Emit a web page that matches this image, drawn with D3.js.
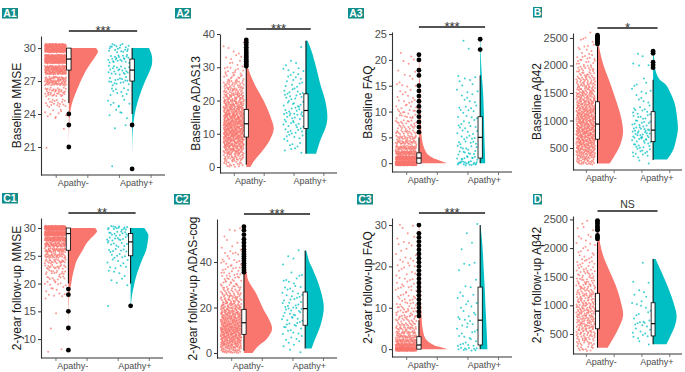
<!DOCTYPE html>
<html>
<head>
<meta charset="utf-8">
<script src="https://cdn.jsdelivr.net/npm/d3@7"></script>
<style>
  body { margin: 0; background: #fff; }
  svg { display: block; font-family: "Liberation Sans", Arial, sans-serif; }
</style>
</head>
<body>
<svg id="chart" width="685" height="372"></svg>
<script>
// Groups and colours
const groups = ["Apathy-", "Apathy+"];
const groupColors = ["#F8766D", "#00BFC4"];

// ---- A1 Baseline MMSE ----
const a1Ticks = [21, 24, 27, 30];
const a1NegPts = [[30, 210], [29, 210], [28, 140], [27, 80], [26, 40], [25, 20], [24, 10], [23, 1], [21, 1]];
const a1PosPts = [[30, 20], [29, 22], [28, 20], [27, 16], [26, 10], [25, 7], [24, 5], [23, 2], [19, 1]];
const a1NegBox = [25, 28, 29, 30, 30];
const a1PosBox = [24, 27, 28, 29, 30];
const a1NegOut = [24, 23, 21];
const a1PosOut = [23, 19];
const a1NegDens = [[21, 0], [22, 0.005], [23, 0.015], [24, 0.04], [25, 0.11], [26, 0.25], [27, 0.41], [28, 0.6], [28.5, 0.72], [29.2, 0.9], [29.7, 1], [30, 0.93]];
const a1PosDens = [[19, 0], [21, 0.005], [22, 0.015], [23, 0.04], [24, 0.09], [25, 0.18], [26, 0.3], [27, 0.45], [28, 0.62], [28.5, 0.68], [29, 0.69], [29.5, 0.66], [30, 0.58]];

// ---- A2 Baseline ADAS13 ----
const a2Ticks = [0, 10, 20, 30, 40];
const a2NegPts = [[1, 20], [3, 35], [5, 55], [7, 70], [9, 80], [11, 85], [13, 82], [15, 75], [17, 65], [19, 55], [21, 45], [23, 35], [25, 25], [27, 16], [29, 10], [31, 6], [33, 4], [35, 3], [37, 2]];
const a2PosPts = [[5, 4], [7, 5], [9, 6], [11, 9], [13, 9], [15, 10], [17, 10], [19, 9], [21, 8], [23, 7], [25, 6], [27, 6], [29, 5], [31, 3], [37, 1]];
const a2NegBox = [0.7, 9.0, 13.0, 17.3, 29.7];
const a2PosBox = [4.0, 11.6, 17.0, 22.0, 38.0];
const a2NegOut = [30.3, 30.8, 31.3, 31.8, 32.3, 32.9, 33.4, 34, 34.6, 35.3, 36, 36.8, 37.5, 38.2];
const a2PosOut = [];
const a2NegDens = [[0, 0.15], [2, 0.3], [5, 0.6], [8, 0.85], [11.5, 1], [15, 0.89], [20, 0.63], [25, 0.3], [30, 0.06], [34, 0.02], [38, 0.005]];
const a2PosDens = [[4, 0.37], [8, 0.52], [12, 0.72], [15, 0.78], [20, 0.7], [25, 0.52], [30, 0.37], [35, 0.2], [38, 0.06]];

// ---- A3 Baseline FAQ ----
const a3Ticks = [0, 5, 10, 15, 20, 25];
const a3NegPts = [[0, 380], [1, 120], [2, 70], [3, 45], [4, 32], [5, 24], [6, 18], [7, 13], [8, 12], [9, 9], [10, 9], [11, 6], [12, 5], [13, 4], [14, 3], [15, 4], [16, 2], [17, 2], [18, 2], [19, 1], [20, 2], [21, 2]];
const a3PosPts = [[0, 20], [1, 10], [2, 8], [3, 7], [4, 6], [5, 6], [6, 5], [7, 5], [8, 4], [9, 4], [10, 4], [11, 4], [12, 3], [13, 3], [14, 3], [15, 2], [16, 3], [17, 2], [22, 1], [24, 1]];
const a3NegBox = [0, 0, 1, 2, 5];
const a3PosBox = [0, 1, 5, 9, 17];
const a3NegOut = [6, 7, 8, 9, 10, 11, 12, 13, 14, 15, 17, 18, 20, 21];
const a3PosOut = [22, 24];
const a3NegDens = [[0, 1], [0.5, 0.75], [1, 0.5], [1.5, 0.36], [2, 0.27], [3, 0.18], [5, 0.1], [8, 0.07], [12, 0.05], [16, 0.03], [21, 0.01]];
const a3PosDens = [[0, 0.18], [2, 0.17], [5, 0.15], [10, 0.13], [14, 0.1], [17, 0.06], [20, 0.03], [22, 0.02], [24, 0.01]];

// ---- B Baseline Abeta42 ----
const bTicks = [500, 1000, 1500, 2000, 2500];
const bNegPts = [[250, 27], [350, 35], [450, 43], [550, 48], [650, 52], [750, 55], [850, 53], [950, 51], [1050, 48], [1150, 45], [1250, 41], [1350, 37], [1450, 33], [1550, 28], [1650, 25], [1750, 20], [1850, 16], [1950, 13], [2050, 10], [2150, 8], [2250, 5], [2350, 4], [2450, 3], [2550, 2]];
const bPosPts = [[250, 2], [350, 5], [450, 7], [550, 9], [650, 11], [750, 12], [850, 11], [950, 9], [1050, 7], [1150, 6], [1250, 4], [1350, 3], [1450, 3], [1550, 3], [1650, 3], [1750, 1], [1950, 1], [2050, 2], [2150, 1], [2250, 1]];
const bNegBox = [220, 660, 935, 1340, 2340];
const bPosBox = [280, 615, 825, 1160, 1740];
const bNegOut = [2390, 2410, 2430, 2450, 2470, 2490, 2510, 2530, 2550];
const bPosOut = [1960, 2010, 2060, 2220, 2260];
const bNegDens = [[220, 0.48], [450, 0.78], [600, 0.92], [800, 1], [1100, 0.9], [1400, 0.7], [1700, 0.48], [2000, 0.24], [2300, 0.08], [2550, 0.02]];
const bPosDens = [[290, 0.55], [460, 0.78], [650, 0.9], [830, 0.97], [1000, 0.95], [1300, 0.85], [1500, 0.68], [1650, 0.5], [1750, 0.25], [1900, 0.1], [2100, 0.05], [2250, 0.02]];

// ---- C1 2-year MMSE ----
const c1Ticks = [10, 15, 20, 25, 30];
const c1NegPts = [[30, 190], [29, 150], [28, 90], [27, 60], [26, 45], [25, 35], [24, 25], [23, 18], [22, 14], [21, 10], [20, 8], [19, 5], [18, 5], [17, 1], [15, 1], [12, 1], [8, 2]];
const c1PosPts = [[30, 14], [29, 12], [28, 10], [27, 8], [26, 7], [25, 6], [24, 5], [23, 4], [22, 3], [21, 3], [20, 2], [16, 1]];
const c1NegBox = [20, 26, 29, 30, 30];
const c1PosBox = [20, 25, 27.5, 29, 30];
const c1NegOut = [19, 18, 15, 12, 8];
const c1PosOut = [16];
const c1NegDens = [[8, 0], [12, 0.005], [15, 0.01], [17, 0.02], [18, 0.04], [19, 0.06], [20, 0.1], [21, 0.13], [22, 0.17], [23, 0.22], [24, 0.28], [25, 0.38], [26, 0.5], [27, 0.6], [28, 0.76], [29, 0.95], [29.5, 1], [30, 0.93]];
const c1PosDens = [[16, 0.01], [18, 0.05], [19.7, 0.12], [21.4, 0.2], [24, 0.38], [26, 0.54], [27, 0.58], [28.6, 0.62], [29, 0.6], [30, 0.48]];

// ---- C2 2-year ADAS-cog ----
const c2Ticks = [0, 20, 40];
const c2NegPts = [[1, 30], [3, 40], [5, 50], [7, 55], [9, 58], [11, 57], [13, 52], [15, 47], [17, 42], [19, 36], [21, 30], [23, 25], [25, 20], [27, 16], [29, 13], [31, 10], [33, 9], [35, 8], [37, 7], [39, 6], [41, 5], [43, 4], [45, 3], [47, 2], [49, 2], [51, 1], [53, 1], [55, 2]];
const c2PosPts = [[1, 2], [3, 2], [5, 3], [7, 3], [9, 4], [11, 5], [13, 5], [15, 6], [17, 6], [19, 6], [21, 6], [23, 5], [25, 5], [27, 4], [29, 4], [31, 3], [33, 3], [35, 2], [39, 1], [41, 1], [43, 1], [45, 1]];
const c2NegBox = [1, 8.2, 13.3, 19.2, 34.5];
const c2PosBox = [2, 12.2, 19.5, 26.8, 45];
const c2NegOut = [35.5, 36.5, 37.5, 38.5, 39.5, 40.5, 41.5, 42.5, 43.5, 44.5, 45.5, 47, 48.5, 50, 52, 54, 55.5];
const c2PosOut = [];
const c2NegDens = [[0, 0.3], [3, 0.5], [6, 0.8], [10.5, 1], [15, 0.88], [19, 0.7], [26.5, 0.42], [32, 0.15], [35, 0.1], [40, 0.05], [45, 0.02], [56, 0.003]];
const c2PosDens = [[2, 0.23], [6, 0.35], [12, 0.54], [18, 0.65], [22, 0.65], [29.5, 0.5], [36.8, 0.27], [40, 0.15], [45, 0.04]];

// ---- C3 2-year FAQ ----
const c3Ticks = [0, 10, 20, 30];
const c3NegPts = [[0, 240], [1, 70], [2, 45], [3, 32], [4, 24], [5, 20], [6, 15], [7, 13], [8, 12], [9, 10], [10, 9], [11, 7], [12, 6], [13, 5], [14, 5], [15, 5], [16, 4], [17, 4], [18, 3], [19, 3], [20, 4], [21, 3], [22, 3], [23, 2], [24, 2], [25, 2], [26, 2], [27, 2], [28, 1], [29, 1], [30, 2]];
const c3PosPts = [[0, 10], [1, 5], [2, 3], [3, 3], [4, 3], [5, 3], [6, 3], [7, 3], [8, 3], [9, 2], [10, 2], [11, 2], [12, 2], [13, 2], [14, 1], [15, 2], [17, 1], [19, 1], [20, 1], [21, 2], [24, 1], [26, 1], [28, 1], [30, 1]];
const c3NegBox = [0, 0, 1, 3, 7];
const c3PosBox = [0, 1, 7, 15, 30];
const c3NegOut = [8, 9, 10, 11, 12, 13, 14, 15, 16, 17, 18, 19, 20, 21, 22, 23, 24, 25, 26, 27, 28, 30];
const c3PosOut = [];
const c3NegDens = [[0, 1], [0.5, 0.75], [1, 0.52], [2, 0.3], [3, 0.2], [5, 0.13], [7, 0.1], [10, 0.08], [15, 0.06], [20, 0.04], [25, 0.03], [30, 0.01]];
const c3PosDens = [[0, 0.26], [3, 0.24], [6, 0.22], [10, 0.19], [15, 0.16], [20, 0.12], [25, 0.08], [28, 0.04], [30, 0.01]];

// ---- D 2-year Abeta42 ----
const dTicks = [500, 1000, 1500, 2000, 2500];
const dNegPts = [[250, 12], [350, 16], [450, 20], [550, 24], [650, 26], [750, 27], [850, 27], [950, 26], [1050, 24], [1150, 22], [1250, 19], [1350, 17], [1450, 15], [1550, 12], [1650, 10], [1750, 8], [1850, 6], [1950, 5], [2050, 4], [2150, 3], [2250, 2], [2350, 3], [2450, 2]];
const dPosPts = [[350, 2], [450, 4], [550, 5], [650, 5], [750, 4], [850, 3], [950, 3], [1050, 3], [1150, 2], [1250, 2], [1350, 1], [1450, 1], [1750, 1]];
const dNegBox = [260, 590, 900, 1210, 2100];
const dPosBox = [320, 465, 680, 1045, 1810];
const dNegOut = [2160, 2190, 2220, 2310, 2330, 2360, 2390, 2430, 2460, 2480];
const dPosOut = [];
const dNegDens = [[260, 0.4], [350, 0.52], [580, 0.8], [815, 1], [1045, 0.92], [1340, 0.72], [1630, 0.44], [1900, 0.2], [2200, 0.06], [2480, 0.01]];
const dPosDens = [[320, 0.52], [465, 0.68], [640, 0.85], [815, 0.92], [1045, 0.8], [1340, 0.56], [1630, 0.28], [1810, 0.1]];

// Panel table (layout + the arrays above)
const panels = [
    { tag: "A1", title: "Baseline MMSE", sig: "***", left: 41, right: 165, top: 36, bottom: 175, yDomain: [18.45, 31.1], ticks: a1Ticks, jit: 0.4, tagX: 2, tagY: 8,
      series: [{ pts: a1NegPts, box: a1NegBox, out: a1NegOut, dens: a1NegDens }, { pts: a1PosPts, box: a1PosBox, out: a1PosOut, dens: a1PosDens }] },
    { tag: "A2", title: "Baseline ADAS13", sig: "***", left: 220, right: 337, top: 34, bottom: 173, yDomain: [-1.8, 40], ticks: a2Ticks, jit: 1, tagX: 175, tagY: 8,
      series: [{ pts: a2NegPts, box: a2NegBox, out: a2NegOut, dens: a2NegDens }, { pts: a2PosPts, box: a2PosBox, out: a2PosOut, dens: a2PosDens }] },
    { tag: "A3", title: "Baseline FAQ", sig: "***", left: 392, right: 512, top: 32, bottom: 172, yDomain: [-1.7, 25.4], ticks: a3Ticks, jit: 0.4, tagX: 348, tagY: 8,
      series: [{ pts: a3NegPts, box: a3NegBox, out: a3NegOut, dens: a3NegDens }, { pts: a3PosPts, box: a3PosBox, out: a3PosOut, dens: a3PosDens }] },
    { tag: "B", title: "Baseline A\u03b242", sig: "*", left: 573, right: 682, top: 33, bottom: 170, yDomain: [100, 2590], ticks: bTicks, jit: 50, tagX: 533, tagY: 7,
      series: [{ pts: bNegPts, box: bNegBox, out: bNegOut, dens: bNegDens }, { pts: bPosPts, box: bPosBox, out: bPosOut, dens: bPosDens }] },
    { tag: "C1", title: "2-year follow-up MMSE", sig: "**", left: 41, right: 163, top: 218, bottom: 358, yDomain: [6.6, 31.8], ticks: c1Ticks, jit: 0.4, tagX: 2, tagY: 193,
      series: [{ pts: c1NegPts, box: c1NegBox, out: c1NegOut, dens: c1NegDens }, { pts: c1PosPts, box: c1PosBox, out: c1PosOut, dens: c1PosDens }] },
    { tag: "C2", title: "2-year follow-up ADAS-cog", sig: "***", left: 217, right: 337, top: 219, bottom: 358, yDomain: [-2.2, 58.9], ticks: c2Ticks, jit: 1, tagX: 174, tagY: 194,
      series: [{ pts: c2NegPts, box: c2NegBox, out: c2NegOut, dens: c2NegDens }, { pts: c2PosPts, box: c2PosBox, out: c2PosOut, dens: c2PosDens }] },
    { tag: "C3", title: "2-year follow-up FAQ", sig: "***", left: 392, right: 512, top: 218, bottom: 357, yDomain: [-1.9, 31.7], ticks: c3Ticks, jit: 0.4, tagX: 357, tagY: 194,
      series: [{ pts: c3NegPts, box: c3NegBox, out: c3NegOut, dens: c3NegDens }, { pts: c3PosPts, box: c3PosBox, out: c3PosOut, dens: c3PosDens }] },
    { tag: "D", title: "2-year follow-up A\u03b242", sig: "NS", left: 573, right: 682, top: 216, bottom: 354, yDomain: [150, 2560], ticks: dTicks, jit: 50, tagX: 533, tagY: 194,
      series: [{ pts: dNegPts, box: dNegBox, out: dNegOut, dens: dNegDens }, { pts: dPosPts, box: dPosBox, out: dPosOut, dens: dPosDens }] }
];

const svg = d3.select("#chart");

// Halton sequence, used only to spread the jitter evenly
function halton(i, b) {
    let f = 1, r = 0;
    while (i > 0) { f /= b; r += f * (i % b); i = Math.floor(i / b); }
    return r;
}

function drawPanel(p) {
    const g = svg.append("g");
    const x = d3.scaleLinear().domain([0.56, 2.52]).range([p.left, p.right]);
    const y = d3.scaleLinear().domain(p.yDomain).range([p.bottom, p.top]);
    const unit = x(2) - x(1);
    const dens = d3.scaleLinear().domain([0, 1]).range([0, 0.46 * unit]);
    const boxW = 0.07 * unit;

    p.series.forEach((s, k) => {
        const c = x(k + 1);

        // half violin
        g.append("path")
            .datum(s.dens)
            .attr("fill", groupColors[k])
            .attr("d", d3.area()
                .y(d => y(d[0]))
                .x0(c)
                .x1(d => c + dens(d[1]))
                .curve(d3.curveCatmullRom));

        // jittered raw points
        const pts = [];
        let idx = 1 + k * 37;
        s.pts.forEach(([v, n]) => {
            for (let j = 0; j < n; j++, idx++) pts.push({ v, i: idx });
        });
        g.append("g")
            .selectAll("circle")
            .data(pts)
            .join("circle")
            .attr("cx", d => x(k + 1 - 0.21 + 0.34 * (halton(d.i, 2) - 0.5)))
            .attr("cy", d => y(d.v + 2 * p.jit * (halton(d.i, 3) - 0.5)))
            .attr("r", 1)
            .attr("fill", groupColors[k])
            .attr("fill-opacity", 0.75);

        // box plot
        const [lo, q1, md, q3, hi] = s.box;
        g.append("line")
            .attr("x1", c).attr("x2", c)
            .attr("y1", y(lo)).attr("y2", y(hi))
            .attr("stroke", "#000").attr("stroke-width", 1);
        g.append("rect")
            .attr("x", c - boxW / 2).attr("y", y(q3))
            .attr("width", boxW).attr("height", Math.max(0.5, y(q1) - y(q3)))
            .attr("fill", "#fff").attr("stroke", "#000").attr("stroke-width", 0.8);
        g.append("line")
            .attr("x1", c - boxW / 2).attr("x2", c + boxW / 2)
            .attr("y1", y(md)).attr("y2", y(md))
            .attr("stroke", "#000").attr("stroke-width", 1.2);

        g.append("g")
            .selectAll("circle")
            .data(s.out)
            .join("circle")
            .attr("cx", c)
            .attr("cy", d => y(d))
            .attr("r", 2.4)
            .attr("fill", "#000");
    });

    // y axis
    const yAxis = g.append("g")
        .attr("transform", `translate(${p.left},0)`)
        .call(d3.axisLeft(y).tickValues(p.ticks).tickFormat(d3.format("d"))
            .tickSize(3).tickSizeOuter(0).tickPadding(2));
    yAxis.select(".domain").attr("stroke", "#333").attr("stroke-width", 1.1);
    yAxis.selectAll(".tick line").attr("stroke", "#333");
    yAxis.selectAll(".tick text")
        .attr("fill", "#4d4d4d")
        .style("font-size", "11px")
        .style("font-family", '"Liberation Sans", Arial, sans-serif');

    // x axis
    g.append("line")
        .attr("x1", p.left).attr("x2", p.right)
        .attr("y1", p.bottom).attr("y2", p.bottom)
        .attr("stroke", "#333").attr("stroke-width", 1.1);
    groups.forEach((name, k) => {
        [-0.2, 0.3].forEach(off => {
            g.append("line")
                .attr("x1", x(k + 1 + off)).attr("x2", x(k + 1 + off))
                .attr("y1", p.bottom).attr("y2", p.bottom + 3)
                .attr("stroke", "#555").attr("stroke-width", 0.8);
        });
        g.append("text")
            .attr("x", x(k + 1.07))
            .attr("y", p.bottom + 11)
            .attr("text-anchor", "middle")
            .attr("fill", "#4d4d4d")
            .style("font-size", "9px")
            .text(name);
    });

    // y title
    let labW = 0;
    yAxis.selectAll(".tick text").each(function() { labW = Math.max(labW, this.getComputedTextLength()); });
    g.append("text")
        .attr("transform", `translate(${p.left - 5 - labW - 7},${(p.top + p.bottom) / 2}) rotate(-90)`)
        .attr("dy", "0.35em")
        .attr("text-anchor", "middle")
        .attr("fill", "#1a1a1a")
        .style("font-size", "12px")
        .text(p.title);

    // significance bar
    const barY = p.top - 5;
    g.append("line")
        .attr("x1", x(1.0)).attr("x2", x(2.08))
        .attr("y1", barY).attr("y2", barY)
        .attr("stroke", "#1a1a1a").attr("stroke-width", 1.6);
    const isStar = p.sig.indexOf("*") >= 0;
    g.append("text")
        .attr("x", (x(1.0) + x(2.08)) / 2)
        .attr("y", isStar ? barY + 3.5 : barY - 3.5)
        .attr("text-anchor", "middle")
        .attr("fill", "#333")
        .style("font-size", isStar ? "13px" : "10.5px")
        .text(p.sig);

    // panel tag
    const tw = p.tag.length > 1 ? 16 : 9;
    g.append("rect")
        .attr("x", p.tagX).attr("y", p.tagY)
        .attr("width", tw).attr("height", 10.5)
        .attr("fill", "#138d8a");
    g.append("text")
        .attr("x", p.tagX + tw / 2).attr("y", p.tagY + 9.2)
        .attr("text-anchor", "middle")
        .attr("fill", "#fff")
        .style("font-size", "10.5px")
        .style("font-weight", "bold")
        .text(p.tag);
}

panels.forEach(drawPanel);
</script>
</body>
</html>
